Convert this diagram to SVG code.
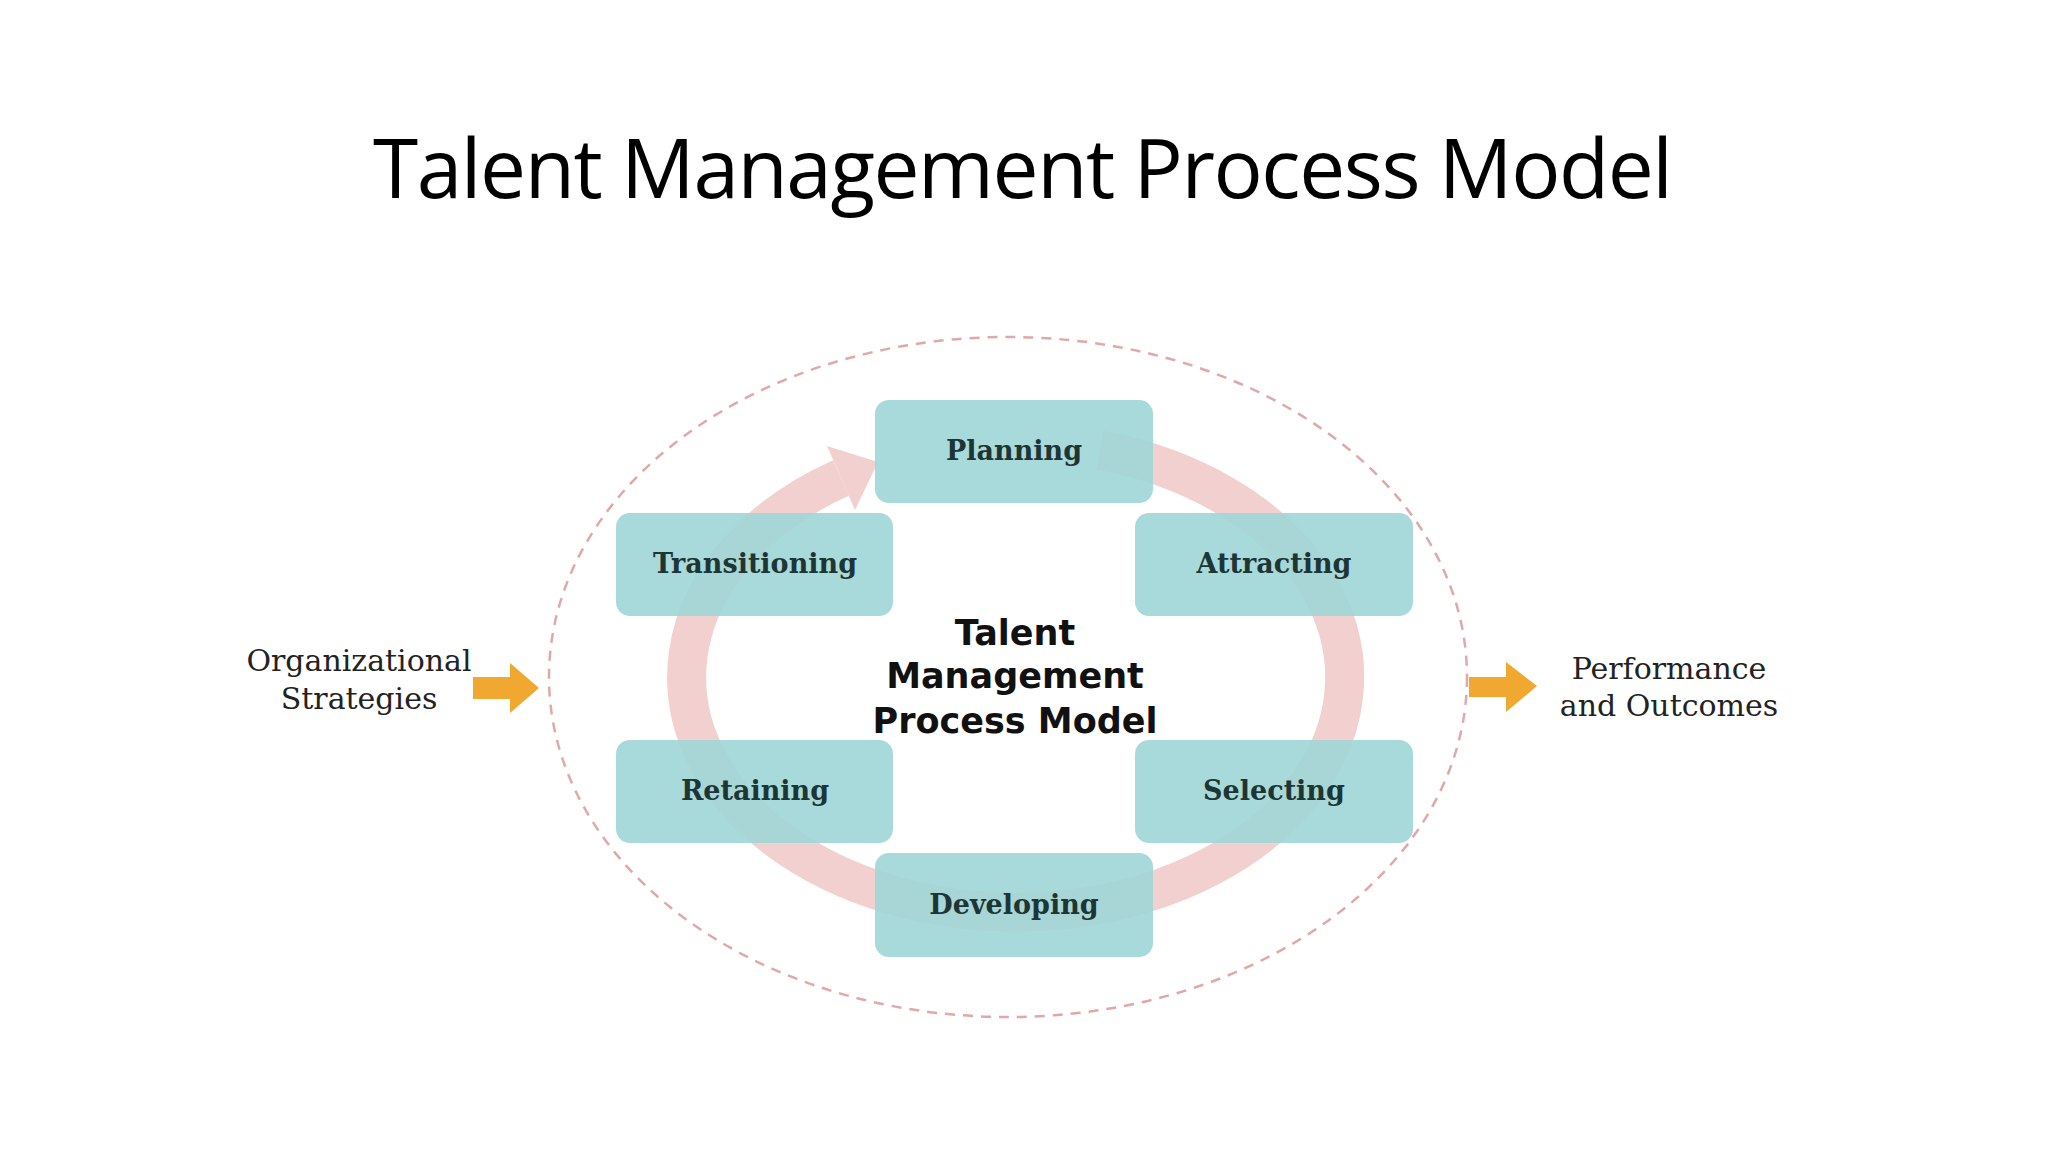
<svg xmlns="http://www.w3.org/2000/svg" width="2048" height="1152" viewBox="0 0 2048 1152">
<style>
.box{fill:#9dd5d6;fill-opacity:0.88}
.lbl{font-family:"DejaVu Serif",serif;font-weight:bold;font-size:27px;fill:#1e3535;text-anchor:middle}
.side{font-family:"DejaVu Serif",serif;font-size:30px;fill:#222;text-anchor:middle}
.ctr{font-family:"DejaVu Sans",sans-serif;font-weight:bold;font-size:35px;fill:#111;text-anchor:middle}
.arr{fill:#f0a830}
</style>
<rect width="2048" height="1152" fill="#ffffff"/>
<text x="1023" y="198" font-family="'Open Sans',sans-serif" font-size="82" fill="#000" text-anchor="middle" textLength="1300">Talent Management Process Model</text>
<g id="boundary"><ellipse cx="1008" cy="677" rx="459" ry="340" fill="none" stroke="#e0a8a8" stroke-width="2.5" stroke-dasharray="10 8"/></g>
<g id="connectors">
<path d="M1100,450 A329,235 0 1 1 841,478" fill="none" stroke="#f2d0d0" stroke-width="39"/>
<polygon points="878,462 855,510 827,446" fill="#f2d0d0"/>
<polygon class="arr" points="473,677 510,677 510,663 539,688 510,713 510,699 473,699"/>
<polygon class="arr" points="1469,677 1506,677 1506,662 1537,686 1506,712 1506,697 1469,697"/>
</g>
<g id="planning"><rect class="box" x="875" y="400" width="278" height="103" rx="14"/><text class="lbl" x="1014" y="460">Planning</text></g>
<g id="transitioning"><rect class="box" x="616" y="513" width="277" height="103" rx="14"/><text class="lbl" x="755" y="573">Transitioning</text></g>
<g id="attracting"><rect class="box" x="1135" y="513" width="278" height="103" rx="14"/><text class="lbl" x="1274" y="573">Attracting</text></g>
<g id="retaining"><rect class="box" x="616" y="740" width="277" height="103" rx="14"/><text class="lbl" x="755" y="800">Retaining</text></g>
<g id="selecting"><rect class="box" x="1135" y="740" width="278" height="103" rx="14"/><text class="lbl" x="1274" y="800">Selecting</text></g>
<g id="developing"><rect class="box" x="875" y="853" width="278" height="104" rx="14"/><text class="lbl" x="1014" y="914">Developing</text></g>
<g id="center"><text class="ctr" x="1015" y="645">Talent</text><text class="ctr" x="1015" y="688">Management</text><text class="ctr" x="1015" y="733">Process Model</text></g>
<g id="input"><text class="side" x="359" y="671">Organizational</text><text class="side" x="359" y="709">Strategies</text></g>
<g id="output"><text class="side" x="1669" y="679">Performance</text><text class="side" x="1669" y="716">and Outcomes</text></g>
</svg>
